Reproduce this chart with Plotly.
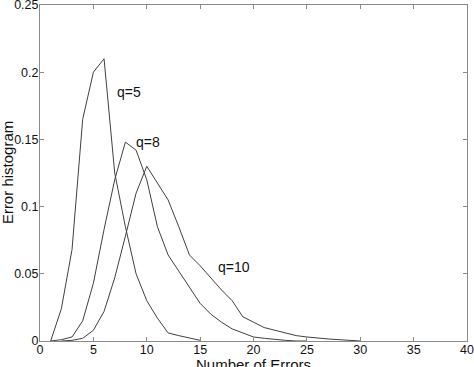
import plotly.graph_objects as go

x_q5 = [1, 2, 3, 4, 5, 6, 7, 8, 9, 10, 11, 12, 13, 14, 15]
y_q5 = [0, 0.024, 0.068, 0.165, 0.200, 0.210, 0.125, 0.085, 0.050, 0.030, 0.017, 0.006, 0.004, 0.002, 0.0005]

x_q8 = list(range(1, 26))
y_q8 = [0, 0.001, 0.003, 0.015, 0.043, 0.083, 0.120, 0.148, 0.142, 0.120, 0.085, 0.064,
        0.052, 0.040, 0.028, 0.020, 0.014, 0.009, 0.006, 0.003, 0.002, 0.001, 0.0005, 0, 0]

x_q10 = list(range(2, 31))
y_q10 = [0, 0.0005, 0.002, 0.008, 0.022, 0.047, 0.078, 0.110, 0.130, 0.118, 0.105, 0.085,
         0.064, 0.056, 0.047, 0.038, 0.030, 0.018, 0.014, 0.010, 0.008, 0.006, 0.004, 0.003,
         0.002, 0.0015, 0.001, 0.0005, 0]

labels = ["q=5", "q=8", "q=10"]
label_x = [8.3, 10.15, 18.2]
label_y = [0.185, 0.148, 0.055]

x_ticks = [0, 5, 10, 15, 20, 25, 30, 35, 40]
y_ticks = [0, 0.05, 0.1, 0.15, 0.2, 0.25]
y_tick_text = ["0", "0.05", "0.1", "0.15", "0.2", "0.25"]

x_title = "Number of Errors"
y_title = "Error histogram"

line_style = dict(color="#404040", width=1)
fig = go.Figure()
for xs, ys in [(x_q5, y_q5), (x_q8, y_q8), (x_q10, y_q10)]:
    fig.add_trace(go.Scatter(x=xs, y=ys, mode="lines", line=line_style, showlegend=False))

tick_font = dict(family="Liberation Sans, Arial, sans-serif", size=12.5, color="#111111")
label_font = dict(family="Liberation Sans, Arial, sans-serif", size=14, color="#111111")
title_font = dict(family="Liberation Sans, Arial, sans-serif", size=15, color="#111111")

for t, xx, yy in zip(labels, label_x, label_y):
    fig.add_annotation(x=xx, y=yy, text=t, showarrow=False, font=label_font)

fig.add_annotation(xref="paper", yref="paper", x=0.5, y=-0.071, text=x_title,
                   showarrow=False, xanchor="center", yanchor="middle", font=title_font)
fig.add_annotation(xref="paper", yref="paper", x=-0.077, y=0.5, text=y_title, textangle=-90,
                   showarrow=False, xanchor="center", yanchor="middle", font=title_font)

axis_common = dict(showline=True, linecolor="#8a8a8a", linewidth=1, mirror="ticks",
                   ticks="inside", ticklen=4, tickcolor="#8a8a8a", showgrid=False,
                   zeroline=False, tickfont=tick_font, automargin=False,
                   ticklabeloverflow="allow")

fig.update_layout(
    width=474, height=367,
    margin=dict(l=40, r=7, t=5, b=26),
    paper_bgcolor="white", plot_bgcolor="white",
    font=tick_font,
    xaxis=dict(range=[0, 40], tickvals=x_ticks, ticklabelstandoff=-3, **axis_common),
    yaxis=dict(range=[0, 0.25], tickvals=y_ticks, ticktext=y_tick_text,
               ticklabelstandoff=-2, **axis_common),
)

fig.write_html("out.html")
